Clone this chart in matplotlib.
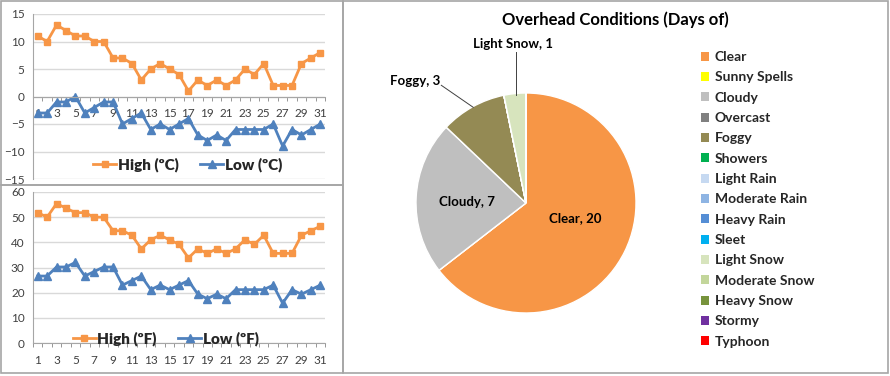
import numpy as np
import matplotlib
matplotlib.use("Agg")
import matplotlib.pyplot as plt
from matplotlib.patches import Rectangle, Patch

plt.rcParams['font.family'] = ['Lato', 'DejaVu Sans']

days = list(range(1, 32))
high_c = [11, 10, 13, 12, 11, 11, 10, 10, 7, 7, 6, 3, 5, 6, 5, 4, 1, 3, 2, 3, 2, 3, 5, 4, 6, 2, 2, 2, 6, 7, 8]
low_c = [-3, -3, -1, -1, 0, -3, -2, -1, -1, -5, -4, -3, -6, -5, -6, -5, -4, -7, -8, -7, -8, -6, -6, -6, -6, -5, -9, -6, -7, -6, -5]
high_f = [51.8, 50, 55.4, 53.6, 51.8, 51.8, 50, 50, 44.6, 44.6, 42.8, 37.4, 41, 42.8, 41, 39.2,
          33.8, 37.4, 35.6, 37.4, 35.6, 37.4, 41, 39.2, 42.8, 35.6, 35.6, 35.6, 42.8, 44.6, 46.4]
low_f = [26.6, 26.6, 30.2, 30.2, 32, 26.6, 28.4, 30.2, 30.2, 23, 24.8, 26.6, 21.2, 23, 21.2, 23,
         24.8, 19.4, 17.6, 19.4, 17.6, 21.2, 21.2, 21.2, 21.2, 23, 15.8, 21.2, 19.4, 21.2, 23]

conditions = ['Clear', 'Sunny Spells', 'Cloudy', 'Overcast', 'Foggy', 'Showers', 'Light Rain',
              'Moderate Rain', 'Heavy Rain', 'Sleet', 'Light Snow', 'Moderate Snow', 'Heavy Snow',
              'Stormy', 'Typhoon']
counts = [20, 0, 7, 0, 3, 0, 0, 0, 0, 0, 1, 0, 0, 0, 0]
cond_colors = ['#F79646', '#FFFF00', '#BFBFBF', '#808080', '#948A54', '#00B050', '#C6D9F1',
               '#8EB4E3', '#558ED5', '#00B0F0', '#D7E4BD', '#C3D69B', '#77933C', '#7030A0', '#FF0000']

ORANGE = '#F79646'
BLUE = '#4F81BD'
W, H = 890, 376

fig = plt.figure(figsize=(8.9, 3.76), dpi=100)


def px_axes(x0, y0, x1, y1):
    # pixel box (top-left origin) -> figure axes
    return fig.add_axes([x0 / W, 1 - y1 / H, (x1 - x0) / W, (y1 - y0) / H])


def style_line_axes(ax, ylim, ystep, xpad):
    ax.set_xlim(0.5, 31.5)
    ax.set_ylim(*ylim)
    ax.set_yticks(np.arange(ylim[0], ylim[1] + 1, ystep))
    ax.set_xticks(np.arange(1, 32, 2))
    ax.set_xticks(np.arange(0.5, 32, 1), minor=True)
    ax.tick_params(axis='x', which='major', length=0, labelsize=8.5, labelcolor='#404040', pad=xpad)
    ax.tick_params(axis='x', which='minor', length=3, color='#868686', direction='out')
    ax.tick_params(axis='y', length=0, labelsize=8.5, labelcolor='#404040', pad=6)
    ax.grid(axis='y', color='#D9D9D9', lw=1)
    ax.set_axisbelow(True)
    for s in ['top', 'right']:
        ax.spines[s].set_visible(False)
    for s in ['left', 'bottom']:
        ax.spines[s].set_color('#A6A6A6')


def draw_lines(ax, hi, lo, unit):
    ax.plot(days, hi, color=ORANGE, lw=2, marker='s', ms=5, label='High (º%s)' % unit, clip_on=False)
    ax.plot(days, lo, color=BLUE, lw=2, marker='^', ms=6, label='Low (º%s)' % unit, clip_on=False)


leg_kw = dict(loc='center', ncol=2, frameon=False, prop={'weight': 'bold', 'size': 11},
              handlelength=1.5, handletextpad=0.1, columnspacing=1.4, labelcolor='#262626')

# top chart (Celsius)
ax1 = px_axes(33, 14, 325, 179)
draw_lines(ax1, high_c, low_c, 'C')
style_line_axes(ax1, (-15, 15), 5, 8)
ax1.spines['bottom'].set_position(('data', 0))
leg1 = ax1.legend(bbox_to_anchor=(0.53, 0.085), **leg_kw)

# bottom chart (Fahrenheit)
ax2 = px_axes(33, 192, 325, 343)
draw_lines(ax2, high_f, low_f, 'F')
style_line_axes(ax2, (0, 60), 10, 9)
leg2 = ax2.legend(bbox_to_anchor=(0.455, 0.03), **leg_kw)
for lg in (leg1, leg2):
    plt.setp(lg.get_texts(), fontweight='heavy')

# pie chart
ax3 = px_axes(416, 93, 636, 313)
ax3.pie(counts, colors=cond_colors, startangle=90, counterclock=False,
        wedgeprops={'linewidth': 1, 'edgecolor': 'white'})
ax3.set_xlim(-1, 1)
ax3.set_ylim(-1, 1)
lab = dict(fontsize=9.5, fontweight='bold', color='black', ha='center', va='center')
ax3.text(0.45, -0.14, 'Clear, 20', **lab)
ax3.text(-0.54, 0.01, 'Cloudy, 7', **lab)
ax3.text(-1.01, 1.11, 'Foggy, 3', **lab)
ax3.plot([-0.77, -0.48], [1.07, 0.87], color='#404040', lw=0.7, clip_on=False)
ax3.text(-0.12, 1.45, 'Light Snow, 1', **lab)
ax3.plot([-0.09, -0.09], [1.37, 0.98], color='#404040', lw=0.7, clip_on=False)

fig.text(615 / W, 1 - 20 / H, 'Overhead Conditions (Days of)', fontsize=12, fontweight='bold',
         ha='center', va='center')

handles = [Patch(facecolor=c, edgecolor='none') for c in cond_colors]
fig.legend(handles, conditions, loc='upper left', bbox_to_anchor=(701 / W, 1 - 51 / H),
           frameon=False, prop={'weight': 'bold', 'size': 10}, handlelength=0.6,
           handleheight=0.6, handletextpad=0.4, labelspacing=0.6, borderaxespad=0,
           borderpad=0, labelcolor='#262626')

# panel borders
for (x0, y0, x1, y1) in [(1, 1, 343, 185), (1, 185, 343, 373), (343, 1, 888, 373)]:
    fig.add_artist(Rectangle((x0 / W, 1 - y1 / H), (x1 - x0) / W, (y1 - y0) / H,
                             transform=fig.transFigure, fill=False, ec='#A6A6A6', lw=1.2))

fig.savefig('out.png', dpi=100)
